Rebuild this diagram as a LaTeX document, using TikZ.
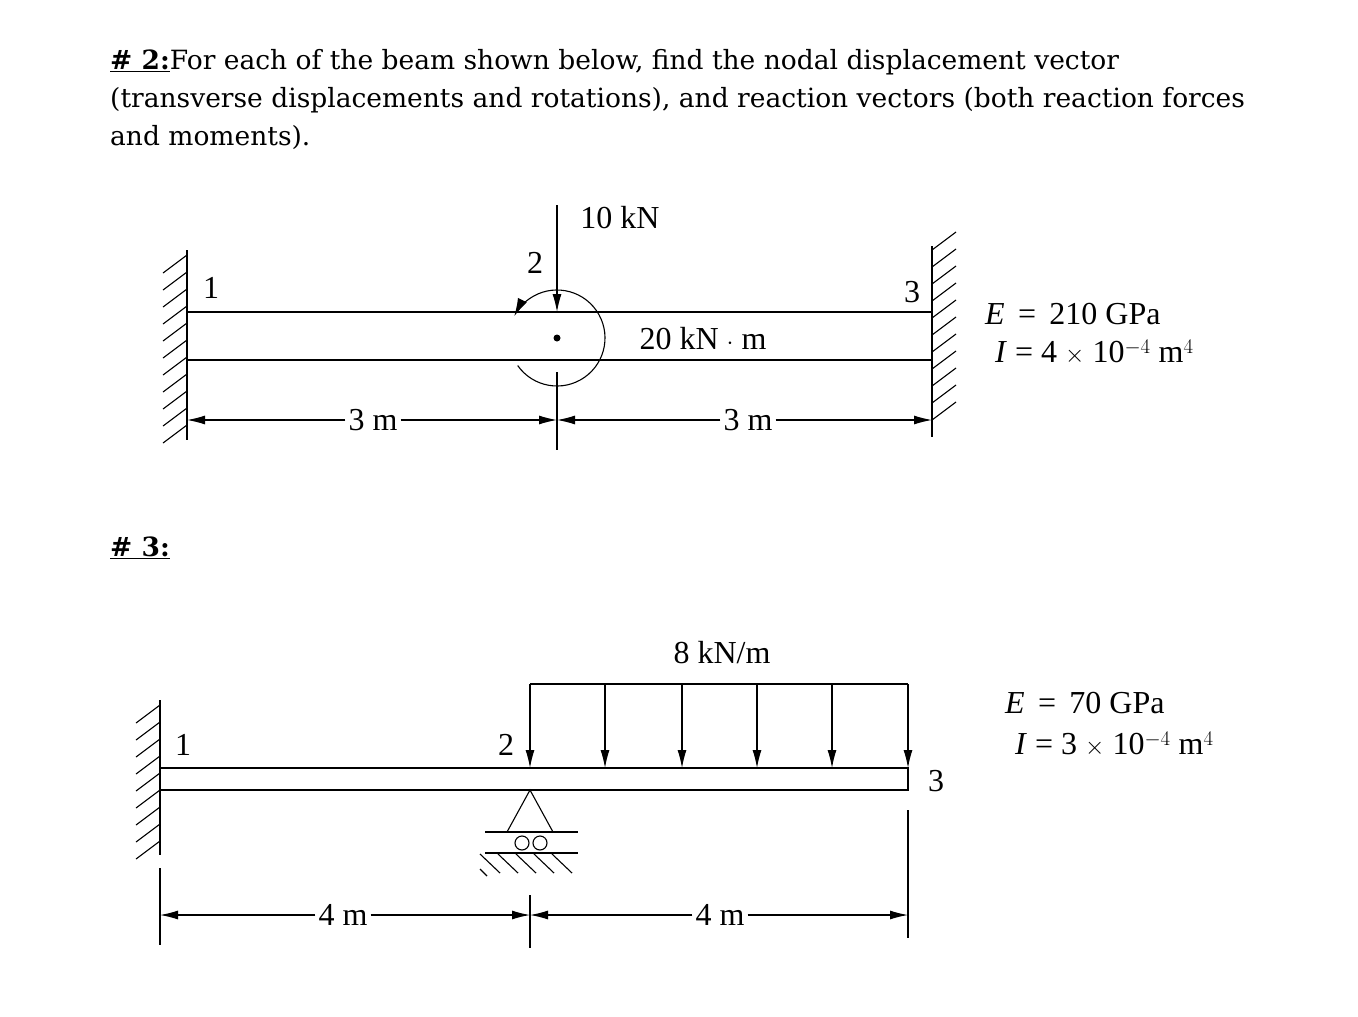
\documentclass[tikz,border=0pt]{standalone}
\usepackage{fontspec}
\setmainfont{Liberation Serif}
\newfontfamily\hdf{DejaVu Serif}
\usetikzlibrary{arrows.meta}
\begin{document}
\begin{tikzpicture}[x=1pt,y=-1pt,
  ln/.style={line width=1.6pt},
  th/.style={line width=1.1pt},
  arr/.style={th,-{Latex[length=18pt,width=9pt]}},
  lbl/.style={inner sep=0pt,font=\fontsize{32}{32}\selectfont},
  hd/.style={inner sep=0pt,anchor=north west,align=left,font=\hdf\fontsize{26.5}{38}\selectfont}]
\useasboundingbox (0,0) rectangle (1358,1017);
\node[hd] (t1) at (110,49) {\textbf{\underline{\# 2:}}For each of the beam shown below, find the nodal displacement vector\\(transverse displacements and rotations), and reaction vectors (both reaction forces\\and moments).};
\node[hd] (t2) at (110,537) {\textbf{\underline{\# 3:}}};
% ---------- beam 1
\coordinate (w1t) at (187,250); \coordinate (w1b) at (187,440);
\coordinate (w3t) at (932,246); \coordinate (w3b) at (932,437);
\draw[ln] (w1t) -- (w1b); \draw[ln] (w3t) -- (w3b);
\foreach \y in {255,272,...,440} \draw[th] (187,\y) -- ++(-24,18);
\foreach \y in {250,267,...,425} \draw[th] (932,\y) -- ++(24,-18);
\draw[ln] (187,312) -- (932,312);
\draw[ln] (187,360) -- (932,360);
\coordinate (n2) at (557,338);
\fill (n2) circle (3.5);
\draw[arr] (557,205) -- (557,312);
\draw[th,-{Latex[length=18pt,width=10pt]}] (n2) ++(145:48) arc[start angle=145,end angle=-153,radius=48];
\node[lbl] (l10) at (620,218) {10 kN};
\node[lbl] (l20) at (703,339) {20 kN $\cdot$ m};
\node[lbl] (a1) at (211,288) {1};
\node[lbl] (a2) at (535,263) {2};
\node[lbl] (a3) at (912,292) {3};
\draw[th] (557,372) -- (557,450);
\node[lbl,fill=white,inner sep=3pt] (d1) at (373,420) {3 m};
\node[lbl,fill=white,inner sep=3pt] (d2) at (748,420) {3 m};
\draw[arr] (d1.west) -- (187,420); \draw[arr] (d1.east) -- (557,420);
\draw[arr] (d2.west) -- (557,420); \draw[arr] (d2.east) -- (932,420);
\node[lbl,anchor=west] (E1) at (985,314) {\textit{E} \,=\, 210 GPa};
\node[lbl,anchor=west] (I1) at (995,352) {\textit{I} = 4 $\times$ 10$^{-4}$ m$^{4}$};
% ---------- beam 2
\draw[ln] (160,700) -- (160,855);
\foreach \y in {705,722,...,855} \draw[th] (160,\y) -- ++(-24,18);
\draw[ln] (160,768) -- (908,768) -- (908,790) -- (160,790);
\draw[th] (530,684) -- (908,684);
\foreach \x in {530,605,682,757,832,908} \draw[arr] (\x,684) -- (\x,768);
\node[lbl] (q) at (722,653) {8 kN/m};
\node[lbl] (b1) at (183,745) {1};
\node[lbl] (b2) at (506,745) {2};
\node[lbl] (b3) at (936,781) {3};
\draw[th] (530,790) -- (507,832) -- (553,832) -- cycle;
\draw[th] (485,832) -- (578,832);
\draw[th] (522,843) circle (7); \draw[th] (540,843) circle (7);
\draw[ln] (485,853) -- (578,853);
\foreach \x in {500,518,...,580} \draw[th] (\x,873) -- ++(-20,-19);
\draw[th] (487,876) -- (480,869);
\draw[th] (160,868) -- (160,945);
\draw[th] (908,810) -- (908,938);
\draw[th] (530,895) -- (530,948);
\node[lbl,fill=white,inner sep=3pt] (d3) at (343,915) {4 m};
\node[lbl,fill=white,inner sep=3pt] (d4) at (720,915) {4 m};
\draw[arr] (d3.west) -- (160,915); \draw[arr] (d3.east) -- (530,915);
\draw[arr] (d4.west) -- (530,915); \draw[arr] (d4.east) -- (908,915);
\node[lbl,anchor=west] (E2) at (1005,703) {\textit{E} \,=\, 70 GPa};
\node[lbl,anchor=west] (I2) at (1015,744) {\textit{I} = 3 $\times$ 10$^{-4}$ m$^{4}$};
\end{tikzpicture}
\end{document}
